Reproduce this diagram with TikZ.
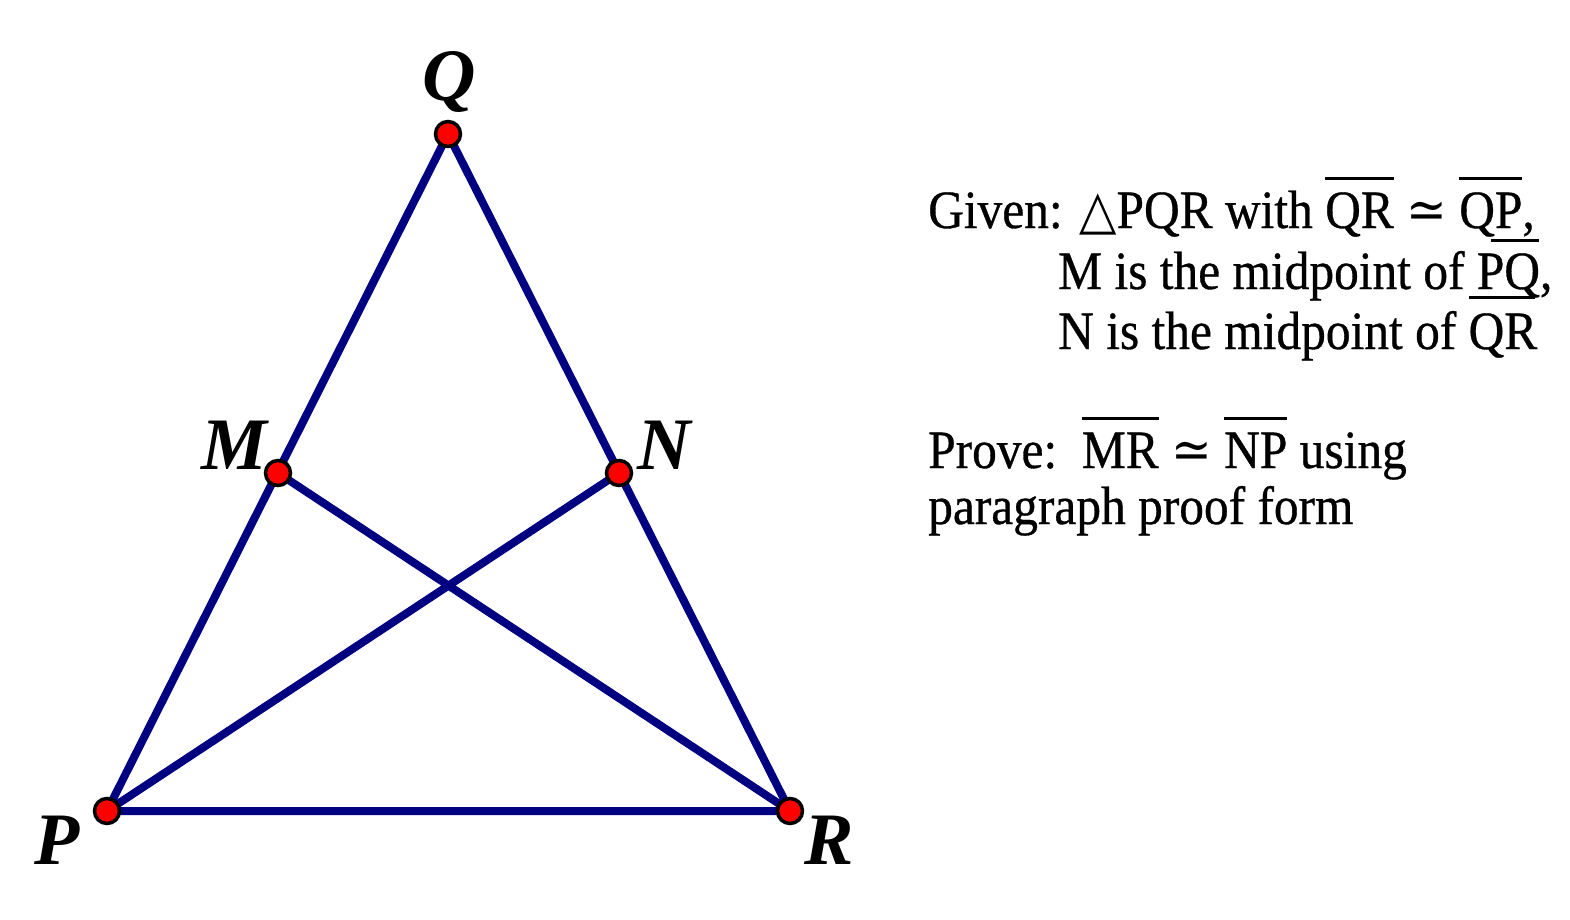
\documentclass[tikz,border=0pt]{standalone}
\usepackage{fontspec}
\setmainfont{Liberation Serif}
\newfontfamily\txtf[FakeStretch=0.915,FakeBold=0.6]{Liberation Serif}
\newfontfamily\symf[FakeStretch=0.9]{DejaVu Serif}
\newcommand\ovl[1]{\setbox0\hbox{#1}\rlap{\raisebox{0.88em}{\rule{\wd0}{3pt}}}\box0\relax}
\begin{document}
\begin{tikzpicture}[x=1pt,y=-1pt,
  seg/.style={draw={rgb,255:red,0;green,0;blue,128},line width=8pt},
  pt/.style={circle,fill=red,draw=black,line width=3.5pt,minimum size=25pt,inner sep=0pt},
  lbl/.style={font=\fontsize{74}{80}\selectfont\bfseries\itshape},
  txt/.style={font=\fontsize{54}{60}\txtf,anchor=base west,inner sep=0pt}]
\useasboundingbox (0,0) rectangle (1570,920);
\coordinate (Qc) at (448,134);
\coordinate (Mc) at (278,473);
\coordinate (Nc) at (619,473);
\coordinate (Pc) at (107,811);
\coordinate (Rc) at (790,811);
\draw[seg] (Pc) -- (Qc) -- (Rc) -- cycle;
\draw[seg] (Mc) -- (Rc);
\draw[seg] (Nc) -- (Pc);
\node[pt] (Q) at (Qc) {};
\node[pt] (M) at (Mc) {};
\node[pt] (N) at (Nc) {};
\node[pt] (P) at (Pc) {};
\node[pt] (R) at (Rc) {};
\node[lbl] (lQ) at (449,82) {Q};
\node[lbl] (lM) at (234,445) {M};
\node[lbl] (lN) at (664,445) {N};
\node[lbl] (lP) at (57,840) {P};
\node[lbl] (lR) at (829,840) {R};
\node[txt] (g1) at (928,228) {Given: {\symf △}PQR with \ovl{QR} {\symf ≃} \ovl{QP},};
\node[txt] (g2) at (1058,289) {M is the midpoint of PQ,};
\node[txt] (g3) at (1058,349) {N is the midpoint of QR};
\node[txt] (p1) at (928,468) {Prove:\ \ \ovl{MR} {\symf ≃} \ovl{NP} using};
\node[txt] (p2) at (928,524) {paragraph proof form};
\coordinate (u1a) at (1491,240);
\coordinate (u1b) at (1539,240);
\coordinate (u2a) at (1469,297);
\coordinate (u2b) at (1535,297);
\draw[line width=3pt] (u1a) -- (u1b);
\draw[line width=3pt] (u2a) -- (u2b);
\end{tikzpicture}
\end{document}
